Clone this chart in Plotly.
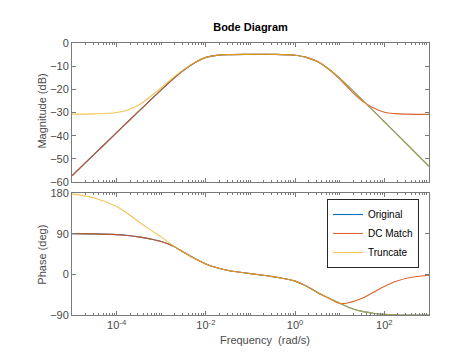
import plotly.graph_objects as go

# ---------------- data ----------------
freq = [1e-5, 3.16e-5, 1e-4, 1.78e-4, 3.16e-4, 5.62e-4, 1e-3, 1.78e-3, 3.16e-3,
        5.62e-3, 1e-2, 1.78e-2, 3.16e-2, 1e-1, 3.16e-1, 1.0, 1.78, 3.16, 5.62,
        10.0, 17.8, 31.6, 56.2, 100.0, 178.0, 316.0, 1000.0]

mag_original = [-57.3, -48.0, -38.7, -34.0, -29.4, -24.8, -20.2, -15.8, -11.8,
                -8.5, -6.2, -5.3, -5.0, -4.9, -4.9, -5.3, -6.2, -8.0, -11.2,
                -15.2, -19.8, -24.5, -29.2, -34.0, -38.8, -43.6, -53.2]
mag_dcmatch = [-57.3, -48.0, -38.7, -34.0, -29.4, -24.8, -20.2, -15.8, -11.8,
               -8.5, -6.2, -5.3, -5.0, -4.9, -4.9, -5.3, -6.2, -8.0, -11.2,
               -15.6, -20.6, -25.0, -28.0, -29.9, -30.5, -30.7, -30.8]
mag_truncate = [-30.7, -30.6, -30.0, -28.9, -26.8, -23.2, -19.3, -15.2, -11.5,
                -8.4, -6.2, -5.3, -5.0, -4.9, -4.9, -5.3, -6.2, -8.0, -11.2,
                -15.2, -19.8, -24.5, -29.2, -34.0, -38.8, -43.6, -53.2]

ph_original = [90, 89.5, 88, 86, 83, 78.5, 72.5, 63, 49, 35, 23, 14.5, 8.5, 1.5,
               -5, -15, -26, -40, -52.5, -64, -75, -82, -86, -88.5, -89.5, -90, -90]
ph_dcmatch = [90, 89.5, 88, 86, 83, 78.5, 72.5, 63, 49, 35, 23, 14.5, 8.5, 1.5,
              -5, -15, -26, -40, -52.5, -64.5, -61.5, -53, -40, -27, -16, -8.5, -2]
ph_truncate = [178, 169, 150, 134, 116, 99, 83, 64.5, 49, 35, 23, 14.5, 8.5, 1.5,
               -5, -15, -26, -40, -52.5, -64, -75, -82, -86, -88.5, -89.5, -90, -90]

series_names = ["Original", "DC Match", "Truncate"]
colors = ["#0072BD", "#D95319", "#EDB120"]
opacities = [1.0, 0.9, 0.75]

x_tickvals = [1e-4, 1e-2, 1e0, 1e2]
x_ticktext = ["10<sup>-4</sup>", "10<sup>-2</sup>", "10<sup>0</sup>", "10<sup>2</sup>"]
mag_ticks = [-60, -50, -40, -30, -20, -10, 0]
ph_ticks = [-90, 0, 90, 180]

# ---------------- figure ----------------
FONT = "Liberation Sans, Arial, sans-serif"
fig = go.Figure()

mags = [mag_original, mag_dcmatch, mag_truncate]
phs = [ph_original, ph_dcmatch, ph_truncate]
for name, col, op, m, p in zip(series_names, colors, opacities, mags, phs):
    fig.add_trace(go.Scatter(x=freq, y=m, mode="lines", name=name,
                             line=dict(color=col, width=1.1, shape="spline", smoothing=1),
                             opacity=op, xaxis="x", yaxis="y", showlegend=False))
    fig.add_trace(go.Scatter(x=freq, y=p, mode="lines", name=name,
                             line=dict(color=col, width=1.1, shape="spline", smoothing=1),
                             opacity=op, xaxis="x2", yaxis="y2", showlegend=True))

minor_vals = [k * 10.0 ** e for e in range(-5, 3) for k in range(1, 10)
              if not (k == 1 and e % 2 == 0)] + [1e3]
axis_common = dict(showline=True, linecolor="#7a7a7a", linewidth=1, mirror="allticks",
                   ticks="inside", ticklen=4, tickcolor="#7a7a7a", showgrid=False,
                   zeroline=False, automargin=False,
                   tickfont=dict(family=FONT, size=11, color="#4a4a4a"))
xcommon = dict(axis_common, type="log", range=[-5, 3], tickmode="array",
               tickvals=x_tickvals, ticktext=x_ticktext,
               minor=dict(tickmode="array", tickvals=minor_vals, ticks="inside",
                          ticklen=2, tickcolor="#7a7a7a", showgrid=False))

W, H = 466, 347
fig.update_layout(
    width=W, height=H, autosize=False,
    paper_bgcolor="white", plot_bgcolor="white",
    margin=dict(l=64, r=45, t=35, b=40),
    title=dict(text="<b>Bode Diagram</b>", x=0.5, xref="paper", y=1 - 19 / H,
               yanchor="middle", font=dict(family=FONT, size=11, color="black")),
    xaxis=dict(xcommon, domain=[0, 1], anchor="y", showticklabels=False, matches="x2"),
    yaxis=dict(axis_common, domain=[0.489, 1.0], anchor="x", range=[-60, 0],
               tickmode="array", tickvals=mag_ticks),
    xaxis2=dict(xcommon, domain=[0, 1], anchor="y2"),
    yaxis2=dict(axis_common, domain=[0.0, 0.4485], anchor="x2", range=[-90, 180],
                tickmode="array", tickvals=ph_ticks),
    legend=dict(x=0.972, xanchor="right", y=0.4265, yanchor="top",
                bgcolor="white", bordercolor="#262626", borderwidth=1,
                font=dict(family=FONT, size=10, color="black"),
                tracegroupgap=0),
    annotations=[
        dict(text="Magnitude (dB)", x=-0.084, y=0.748, xref="paper", yref="paper",
             textangle=-90, showarrow=False, xanchor="center", yanchor="middle",
             font=dict(family=FONT, size=11, color="#4a4a4a")),
        dict(text="Phase (deg)", x=-0.084, y=0.222, xref="paper", yref="paper",
             textangle=-90, showarrow=False, xanchor="center", yanchor="middle",
             font=dict(family=FONT, size=11, color="#4a4a4a")),
        dict(text="Frequency  (rad/s)", x=0.541, y=-0.092, xref="paper", yref="paper",
             showarrow=False, xanchor="center", yanchor="middle",
             font=dict(family=FONT, size=11, color="#4a4a4a")),
    ],
)

fig.write_html("out.html")
